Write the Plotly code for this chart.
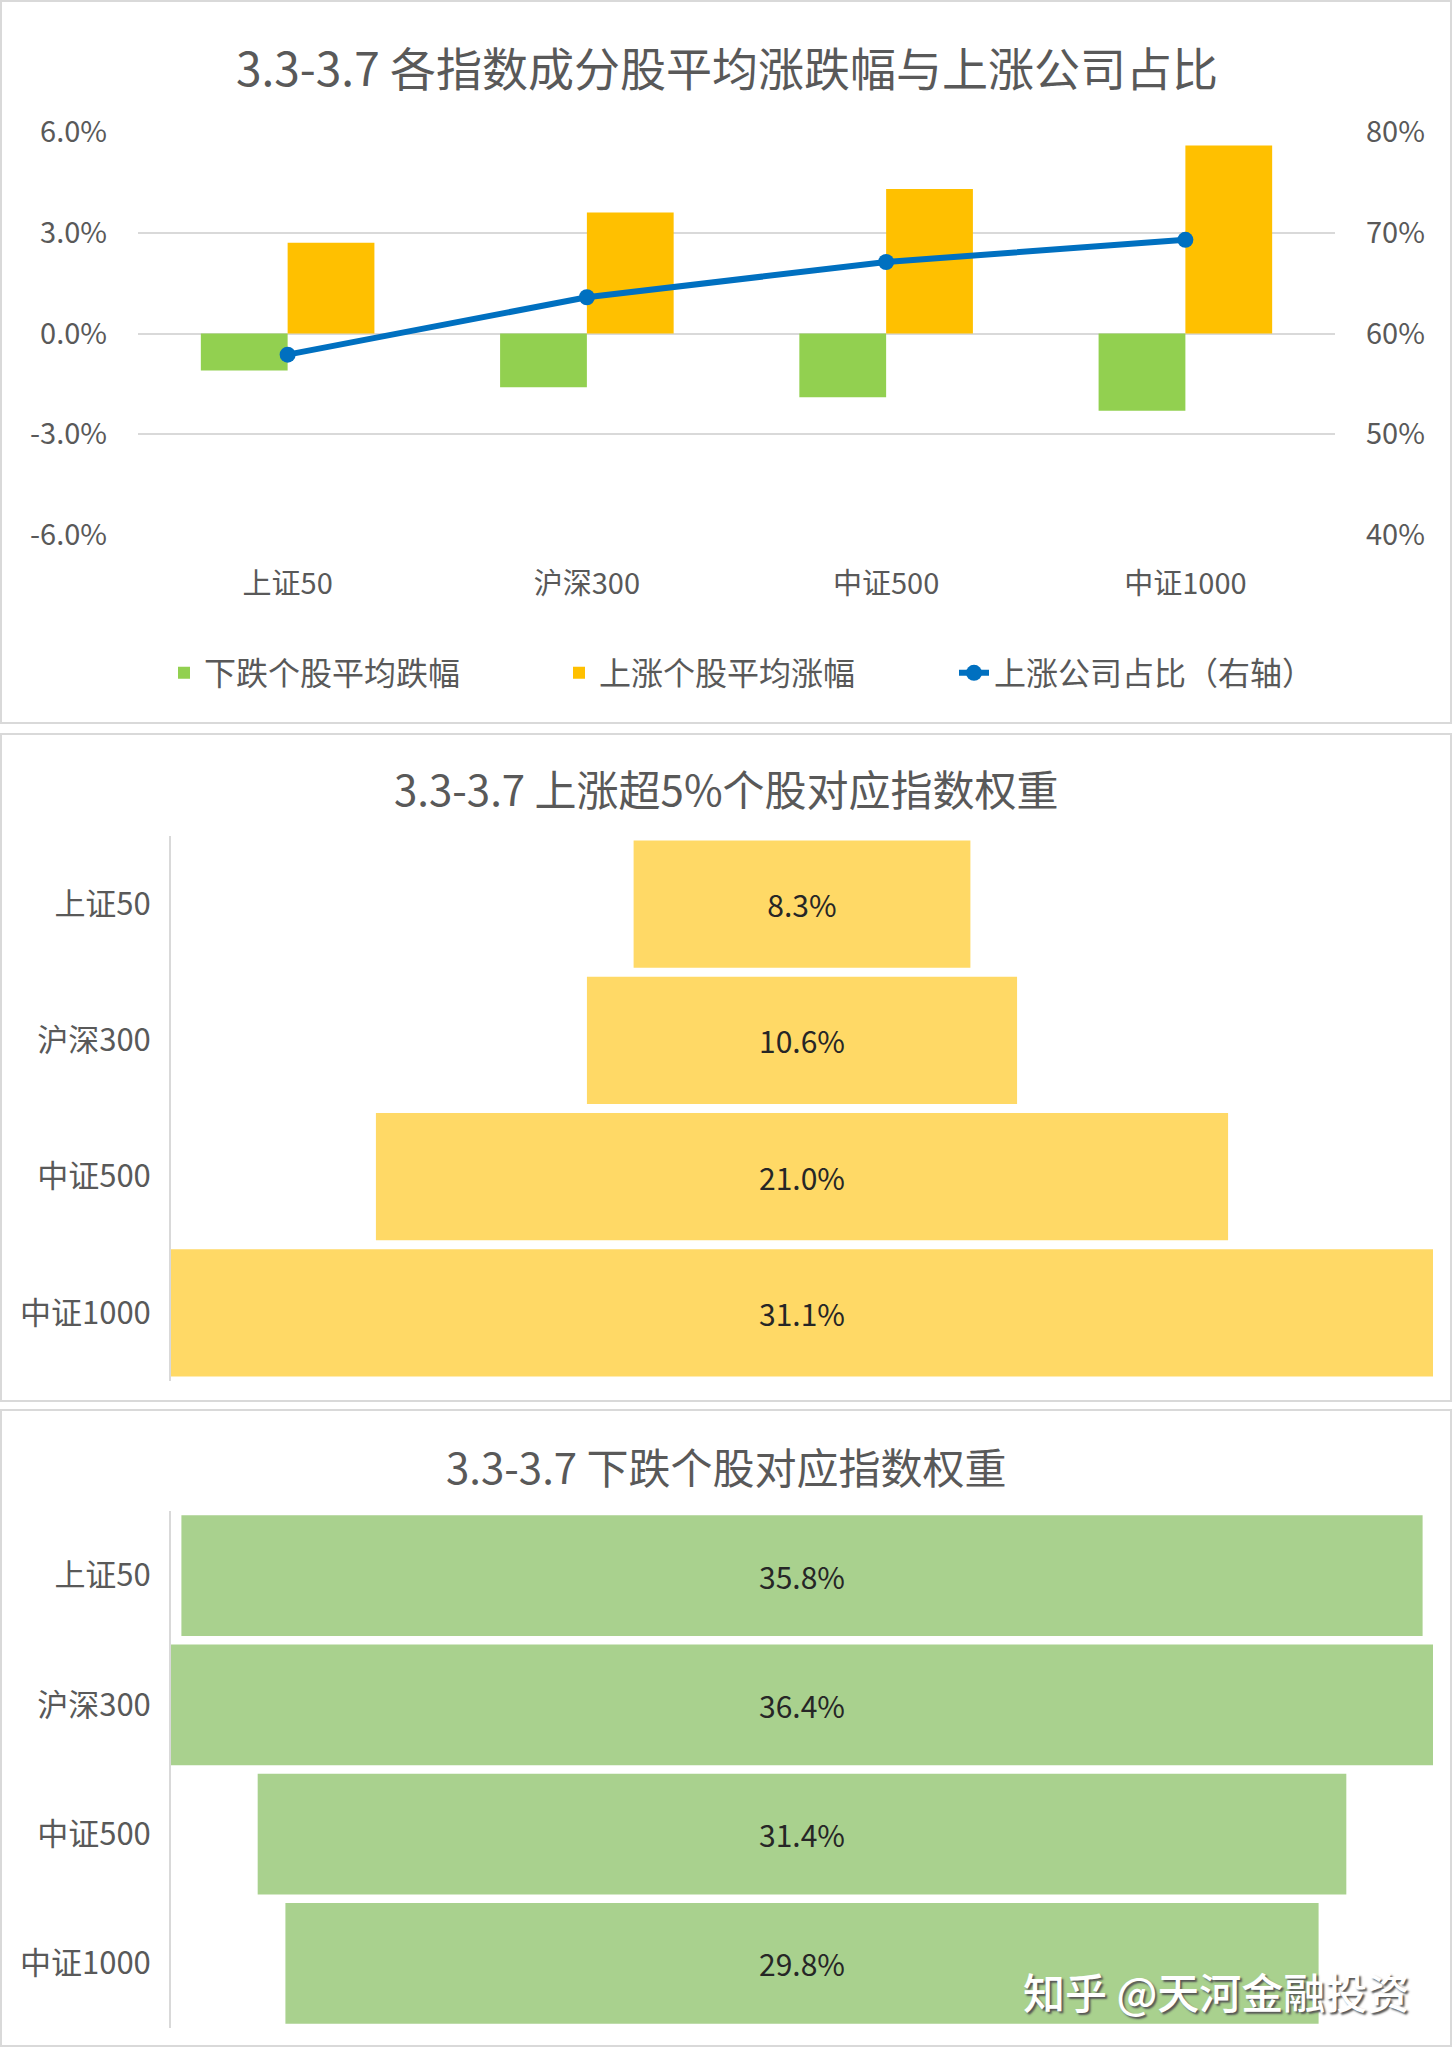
import plotly.graph_objects as go

# ---------------- data ----------------
categories = ["上证50", "沪深300", "中证500", "中证1000"]
down_avg = [-1.1, -1.6, -1.9, -2.3]          # 下跌个股平均跌幅 (%)
up_avg = [2.7, 3.6, 4.3, 5.6]                # 上涨个股平均涨幅 (%)
up_ratio = [57.9, 63.6, 67.1, 69.3]          # 上涨公司占比 (%) 右轴
up5_weight = [8.3, 10.6, 21.0, 31.1]         # 上涨超5%个股对应指数权重 (%)
down_weight = [35.8, 36.4, 31.4, 29.8]       # 下跌个股对应指数权重 (%)

left_ticks = [-6, -3, 0, 3, 6]
left_ticktext = ["-6.0%", "-3.0%", "0.0%", "3.0%", "6.0%"]
right_ticks = [40, 50, 60, 70, 80]
right_ticktext = ["40%", "50%", "60%", "70%", "80%"]

title1 = "3.3-3.7 各指数成分股平均涨跌幅与上涨公司占比"
title2 = "3.3-3.7 上涨超5%个股对应指数权重"
title3 = "3.3-3.7 下跌个股对应指数权重"
watermark = "知乎 @天河金融投资"

# ---------------- style ----------------
W, H = 1453, 2048
FONT = "Noto Sans CJK SC, Noto Sans, sans-serif"
TXT = "#595959"
GRID = "#D9D9D9"
GREEN = "#92D050"
YELLOW = "#FFC000"
BLUE = "#0070C0"
GOLD = "#FFD966"
LGREEN = "#A9D18E"


def py(pix):
    return 1 - pix / H


def px(pix):
    return pix / W


fig = go.Figure()

# Chart 1
fig.add_trace(go.Bar(x=categories, y=down_avg, name="下跌个股平均跌幅",
                     marker=dict(color=GREEN, line=dict(width=0)),
                     xaxis="x", yaxis="y"))
fig.add_trace(go.Bar(x=categories, y=up_avg, name="上涨个股平均涨幅",
                     marker=dict(color=YELLOW, line=dict(width=0)),
                     xaxis="x", yaxis="y"))
fig.add_trace(go.Scatter(x=categories, y=up_ratio, name="上涨公司占比（右轴）",
                         mode="lines+markers",
                         line=dict(color=BLUE, width=6),
                         marker=dict(color=BLUE, size=16),
                         xaxis="x", yaxis="y2"))

# Chart 2 (funnel-style centred bars)
fig.add_trace(go.Funnel(y=categories, x=up5_weight, name="上涨超5%",
                        marker=dict(color=GOLD, line=dict(width=0)),
                        connector=dict(visible=False),
                        texttemplate="%{x:.1f}%", textposition="inside",
                        insidetextanchor="middle", constraintext="none",
                        textfont=dict(family=FONT, size=30, color="#262626"),
                        showlegend=False, xaxis="x3", yaxis="y3"))

# Chart 3
fig.add_trace(go.Funnel(y=categories, x=down_weight, name="下跌",
                        marker=dict(color=LGREEN, line=dict(width=0)),
                        connector=dict(visible=False),
                        texttemplate="%{x:.1f}%", textposition="inside",
                        insidetextanchor="middle", constraintext="none",
                        textfont=dict(family=FONT, size=30, color="#262626"),
                        showlegend=False, xaxis="x4", yaxis="y4"))

half2 = max(up5_weight) / 2
half3 = max(down_weight) / 2

fig.update_layout(
    width=W, height=H,
    margin=dict(l=0, r=0, t=0, b=0, pad=0, autoexpand=False),
    paper_bgcolor="white", plot_bgcolor="white",
    font=dict(family=FONT, color=TXT),
    barmode="group", bargap=0.42, bargroupgap=0,
    funnelgap=0.065,
    showlegend=True,
    legend=dict(orientation="h", x=px(164), xanchor="left",
                y=py(673), yanchor="middle",
                font=dict(family=FONT, size=32, color=TXT),
                entrywidth=350, entrywidthmode="pixels",
                bgcolor="rgba(0,0,0,0)"),
    xaxis=dict(domain=[px(138), px(1335)], anchor="y", type="category",
               showgrid=False, showline=False, ticks="",
               tickfont=dict(family=FONT, size=29, color=TXT),
               ticklabelstandoff=29),
    yaxis=dict(domain=[py(535), py(132)], range=[-6, 6],
               tickmode="array", tickvals=left_ticks, ticktext=left_ticktext,
               showgrid=True, gridcolor=GRID, gridwidth=2,
               zeroline=True, zerolinecolor=GRID, zerolinewidth=2,
               showline=False, ticks="",
               tickfont=dict(family=FONT, size=29, color=TXT),
               ticklabelstandoff=30),
    yaxis2=dict(overlaying="y", side="right", anchor="x", range=[40, 80],
                tickmode="array", tickvals=right_ticks, ticktext=right_ticktext,
                showgrid=False, zeroline=False, showline=False, ticks="",
                tickfont=dict(family=FONT, size=29, color=TXT),
                ticklabelstandoff=30),
    xaxis3=dict(domain=[px(171), px(1433)], anchor="y3",
                range=[-half2, half2], visible=False),
    yaxis3=dict(domain=[py(1381), py(836)], anchor="x3",
                autorange="reversed", showgrid=False, zeroline=False,
                showline=True, linecolor=GRID, linewidth=2, ticks="",
                tickfont=dict(family=FONT, size=31, color=TXT),
                ticklabelstandoff=12),
    xaxis4=dict(domain=[px(171), px(1433)], anchor="y4",
                range=[-half3, half3], visible=False),
    yaxis4=dict(domain=[py(2028), py(1511)], anchor="x4",
                autorange="reversed", showgrid=False, zeroline=False,
                showline=True, linecolor=GRID, linewidth=2, ticks="",
                tickfont=dict(family=FONT, size=31, color=TXT),
                ticklabelstandoff=12),
)

# panel borders
for top, bottom in [(1, 723), (734, 1401), (1410, 2046)]:
    fig.add_shape(type="rect", xref="paper", yref="paper",
                  x0=px(1), x1=px(1451), y0=py(bottom), y1=py(top),
                  line=dict(color=GRID, width=2), fillcolor="rgba(0,0,0,0)",
                  layer="below")

# titles
for text, ypix, size in [(title1, 66, 46), (title2, 787, 42), (title3, 1465, 42)]:
    fig.add_annotation(text=text, xref="paper", yref="paper", x=0.5, y=py(ypix),
                       xanchor="center", yanchor="middle", showarrow=False,
                       font=dict(family=FONT, size=size, color=TXT))

# watermark
fig.add_annotation(text=watermark, xref="paper", yref="paper",
                   x=px(1216), y=py(1990), xanchor="center", yanchor="middle",
                   showarrow=False,
                   font=dict(family=FONT, size=42, color="white", weight=500,
                             shadow="2px 2px 2px #555555"))

fig.write_html("out.html")
